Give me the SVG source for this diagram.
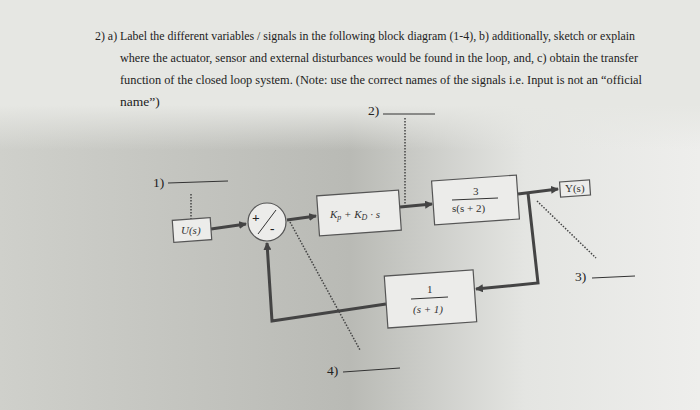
<svg xmlns="http://www.w3.org/2000/svg" width="700" height="410" viewBox="0 0 700 410">
<defs>
<marker id="ah" markerWidth="8" markerHeight="8" refX="7" refY="4" orient="auto" markerUnits="userSpaceOnUse"><path d="M0,0 L8,4 L0,8 z" fill="#444"/></marker>
<linearGradient id="bg" x1="0" y1="0" x2="1" y2="0">
<stop offset="0" stop-color="#cfd0cb"/><stop offset="0.5" stop-color="#b9bab5"/><stop offset="0.75" stop-color="#e4e5e2"/><stop offset="1" stop-color="#eeeeec"/></linearGradient>
<linearGradient id="top" x1="0" y1="0" x2="0" y2="1">
<stop offset="0" stop-color="#e6e7e3"/><stop offset="0.7" stop-color="#e6e7e3"/><stop offset="1" stop-color="#e6e7e3" stop-opacity="0"/></linearGradient>
<style>
.t{font-family:"Liberation Serif",serif;font-size:13.5px;fill:#222}
.q{font-family:"Liberation Serif",serif;font-size:12px;fill:#222}
.m{font-family:"Liberation Serif",serif;font-size:11px;fill:#333}
.mi{font-family:"Liberation Serif",serif;font-size:11px;font-style:italic;fill:#333}
.b{fill:#ececea;stroke:#555;stroke-width:1.2}
.w{fill:none;stroke:#444;stroke-width:3}
.d{fill:none;stroke:#444;stroke-width:1.5;stroke-dasharray:1.5 1.5}
.l{stroke:#333;stroke-width:1}
</style>
</defs>
<rect width="700" height="410" fill="url(#bg)"/>
<rect width="700" height="150" fill="url(#top)"/>
<g id="question">
<text class="q" x="95" y="40" textLength="540" lengthAdjust="spacingAndGlyphs">2)  a) Label the different variables / signals in the following block diagram (1-4), b) additionally, sketch or explain</text>
<text class="t" x="120" y="62" textLength="518" lengthAdjust="spacingAndGlyphs">where the actuator, sensor and external disturbances would be found in the loop, and, c) obtain the transfer</text>
<text class="t" x="120" y="84" textLength="522" lengthAdjust="spacingAndGlyphs">function of the closed loop system. (Note: use the correct names of the signals i.e. Input is not an “official</text>
<text class="t" x="120" y="106">name”)</text>
</g>
<g id="labels">
<text class="t" x="368" y="115">2)</text><line class="l" x1="383" y1="114" x2="435" y2="114"/>
<text class="t" x="153" y="187">1)</text><line class="l" x1="168" y1="183" x2="228" y2="181"/>
<text class="t" x="575" y="281">3)</text><line class="l" x1="592" y1="278" x2="635" y2="276"/>
<text class="t" x="327" y="375">4)</text><line class="l" x1="343" y1="372" x2="400" y2="368"/>
</g>
<g id="connectors">
<line class="d" x1="405" y1="118" x2="405" y2="205"/>
<line class="d" x1="191" y1="194" x2="191" y2="219"/>
<line class="d" x1="290" y1="222" x2="360" y2="350"/>
<line class="d" x1="537" y1="201" x2="596" y2="258"/>
<line class="w" x1="211" y1="229" x2="246" y2="224" marker-end="url(#ah)"/>
<line class="w" x1="287" y1="220" x2="316" y2="216" marker-end="url(#ah)"/>
<line class="w" x1="400" y1="207" x2="432" y2="204" marker-end="url(#ah)"/>
<line class="w" x1="518" y1="194" x2="558" y2="189" marker-end="url(#ah)"/>
<polyline class="w" points="528,193 538,283 476,289" marker-end="url(#ah)"/>
<polyline class="w" points="386,304 272,321 267,243" marker-end="url(#ah)"/>
</g>
<g id="U"><rect class="b" x="173" y="219" width="38" height="22" transform="rotate(-4 192 230)"/><text class="mi" x="181" y="234">U(s)</text></g>
<g id="sum"><circle class="b" cx="267" cy="222" r="19"/><line class="l" x1="258" y1="234" x2="276" y2="210"/><text class="t" x="252" y="222" font-weight="bold">+</text><text class="t" x="270" y="233" font-weight="bold">-</text></g>
<g id="ctrl"><rect class="b" x="318" y="193" width="82" height="40" transform="rotate(-4 359 213)"/><text class="mi" x="330" y="218">K<tspan font-size="8" dy="2">p</tspan><tspan dy="-2"> + K</tspan><tspan font-size="8" dy="2">D</tspan><tspan dy="-2"> · s</tspan></text></g>
<g id="plant"><rect class="b" x="433" y="178" width="85" height="44" transform="rotate(-4 475 200)"/><text class="m" x="473" y="195">3</text><line class="l" x1="452" y1="200" x2="498" y2="198"/><text class="m" x="452" y="212">s(s + 2)</text></g>
<g id="Y"><rect class="b" x="560" y="181" width="30" height="15" transform="rotate(-4 575 188)"/><text class="m" x="565" y="192" font-size="9">Y(s)</text></g>
<g id="sensor"><rect class="b" x="386" y="273" width="89" height="52" transform="rotate(-4 430 299)"/><text class="m" x="427" y="293">1</text><line class="l" x1="411" y1="299" x2="448" y2="297"/><text class="mi" x="413" y="313">(s + 1)</text></g>
</svg>
